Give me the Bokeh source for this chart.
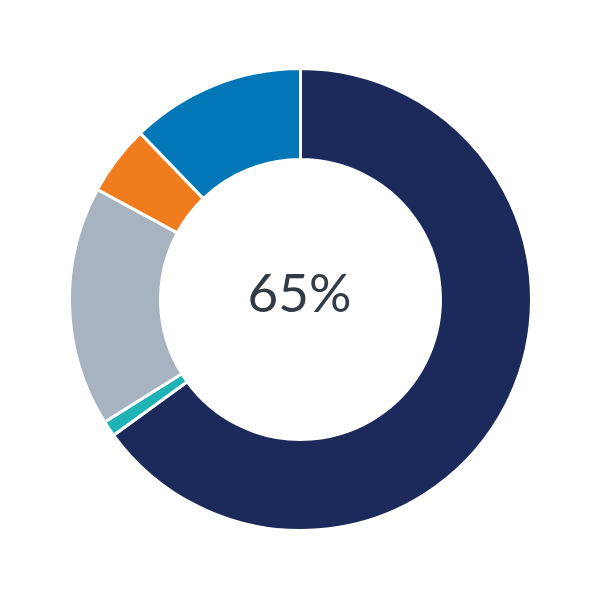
import numpy as np
from bokeh.plotting import figure
from bokeh.models import ColumnDataSource, Range1d
from bokeh.core.properties import value
from bokeh.embed import file_html
from bokeh.resources import INLINE

categories = ["Navy", "Teal", "Grey", "Orange", "Blue"]
shares = [65.0, 1.1, 16.8, 4.9, 12.2]
colors = ["#1b2a5b", "#1fb3b6", "#a8b3c1", "#f07c1e", "#0277b8"]
center_label = "65%"

W, H = 584, 583
cx, cy = 300, 284
r_out, r_in = 231, 140

vals = np.array(shares)
frac = vals / vals.sum()
ends = np.cumsum(frac) * 2 * np.pi
starts = ends - frac * 2 * np.pi
src = ColumnDataSource(dict(
    cat=categories,
    start=np.pi / 2 - starts,
    end=np.pi / 2 - ends,
    color=colors,
))

p = figure(width=W, height=H, output_backend="svg", toolbar_location=None,
           x_range=Range1d(0, W), y_range=Range1d(0, H), min_border=0)
p.axis.visible = False
p.grid.visible = False
p.outline_line_color = None
p.background_fill_color = "white"

p.annular_wedge(x=cx, y=cy, inner_radius=r_in, outer_radius=r_out,
                start_angle="start", end_angle="end", direction="clock",
                fill_color="color", line_color="white", line_width=3, source=src)

p.text(x=[cx - 1], y=[cy + 8], text=[center_label], text_align="center",
       text_baseline="middle", text_font=value("Lato"),
       text_font_size="53px", text_color="#333b44")

open("out.html", "w").write(file_html(p, INLINE))
